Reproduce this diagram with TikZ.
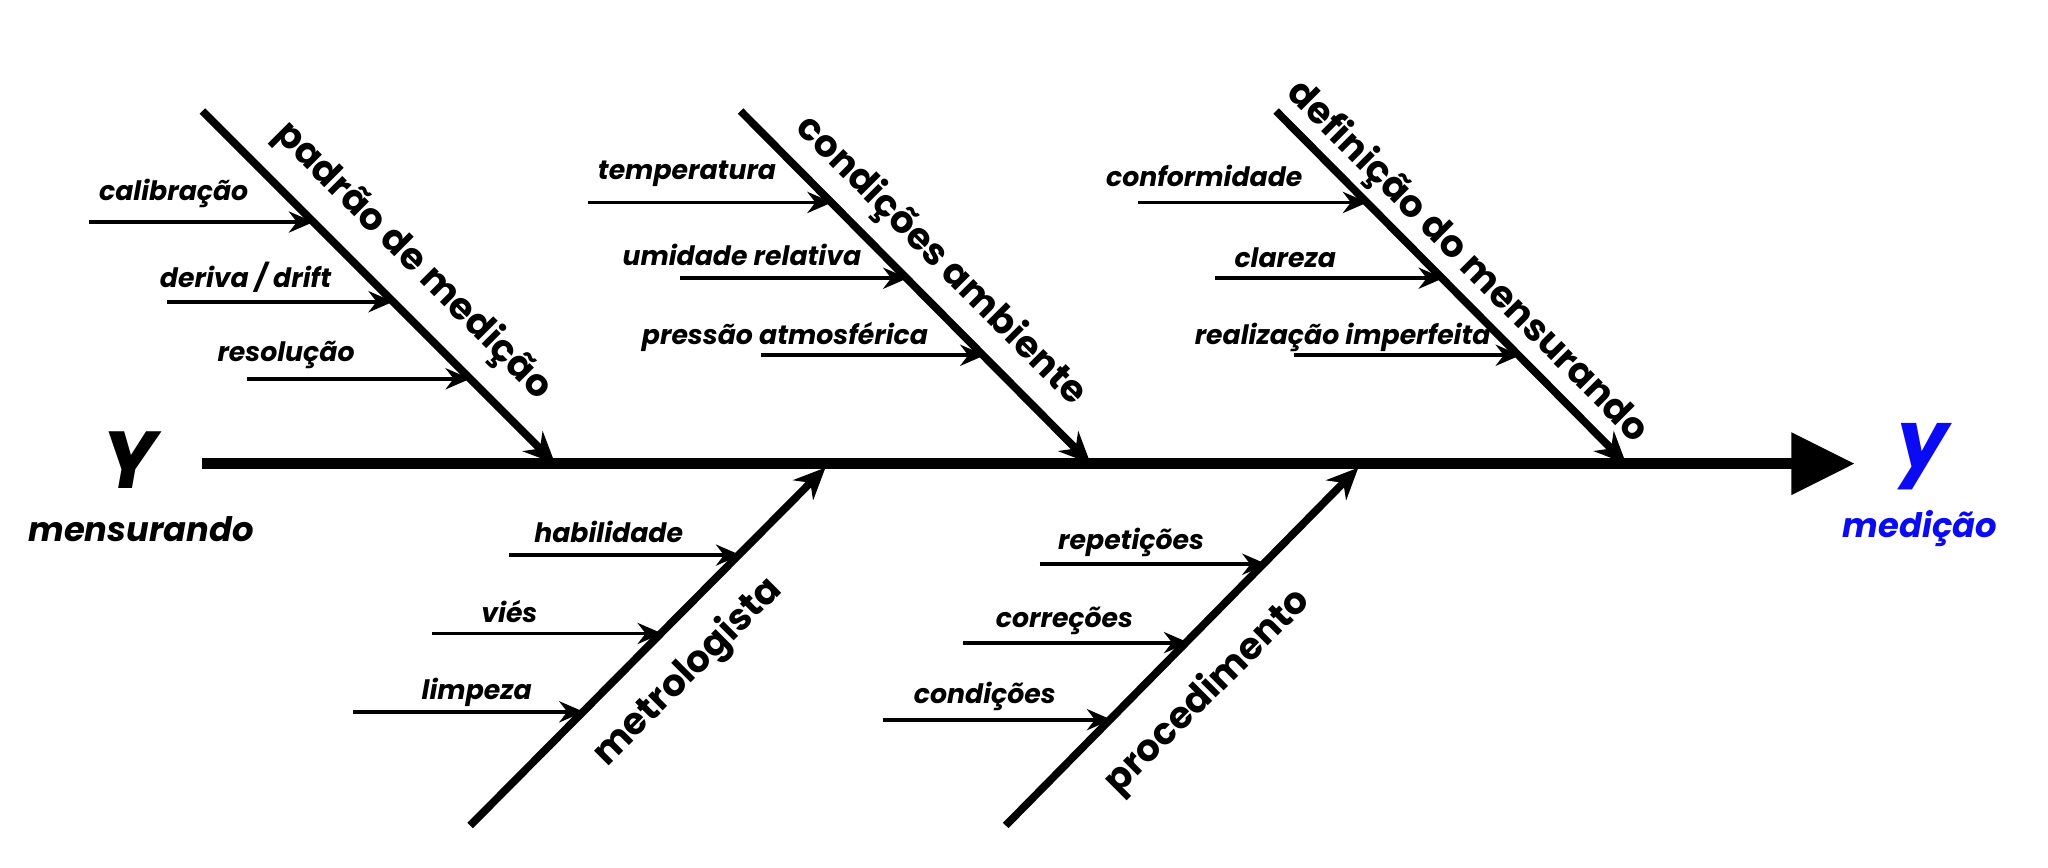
\documentclass[tikz,border=0pt]{standalone}
\usepackage{fontspec}
\setmainfont{Poppins}
\usetikzlibrary{arrows.meta}
\definecolor{measblue}{RGB}{10,10,245}
\tikzset{
  spine/.style={line width=3pt, -{Triangle[length=18pt,width=17pt]}},
  bone/.style={line width=2.2pt, -{Stealth[length=9pt,width=8pt]}},
  cause/.style={line width=1.1pt, -{Stealth[length=7pt,width=6pt]}},
  causelbl/.style={font=\fontsize{7.6}{8}\selectfont\bfseries\itshape},
  bonelbl/.style={font=\fontsize{10.6}{12}\selectfont\bfseries},
}
\begin{document}
\begin{tikzpicture}[x=0.013061cm, y=-0.013061cm]
    \useasboundingbox (0,0) rectangle (1568,664);
    % spine
    \coordinate (s0) at (155,355);
    \coordinate (s1) at (1420,355);
    \draw[spine] (s0) -- (s1);
    \node[font=\fontsize{23}{24}\selectfont\bfseries\itshape] (Y) at (99,352) {Y};
    \node[font=\fontsize{9.6}{11}\selectfont\bfseries\itshape] (Ylbl) at (108,405) {mensurando};
    \node[font=\fontsize{23}{24}\selectfont\bfseries\itshape, text=measblue] (y) at (1472,350) {y};
    \node[font=\fontsize{9.6}{11}\selectfont\bfseries\itshape, text=measblue] (ylbl) at (1470,405) {medição};
    % bones
    \coordinate (a0) at (155,85);   \coordinate (a1) at (425,355);
    \coordinate (b0) at (567,85);   \coordinate (b1) at (835,355);
    \coordinate (c0) at (977,85);   \coordinate (c1) at (1245,355);
    \coordinate (d0) at (360,632);  \coordinate (d1) at (632,358);
    \coordinate (e0) at (770,632);  \coordinate (e1) at (1040,358);
    \draw[bone] (a0) -- (a1);
    \draw[bone] (b0) -- (b1);
    \draw[bone] (c0) -- (c1);
    \draw[bone] (d0) -- (d1);
    \draw[bone] (e0) -- (e1);
    \node[bonelbl, rotate=-45] (la) at (316,200) {padrão de medição};
    \node[bonelbl, rotate=-45] (lb) at (720,200) {condições ambiente};
    \node[bonelbl, rotate=-45] (lc) at (1123,201) {definição do mensurando};
    \node[bonelbl, rotate=45]  (ld) at (527,515) {metrologista};
    \node[bonelbl, rotate=45]  (le) at (925,530) {procedimento};
    % causes - padrao de medicao
    \coordinate (a1s) at (68,170);   \coordinate (a1e) at (240,170);
    \coordinate (a2s) at (128,231);  \coordinate (a2e) at (301,231);
    \coordinate (a3s) at (189,290);  \coordinate (a3e) at (360,290);
    \draw[cause] (a1s) -- (a1e);
    \draw[cause] (a2s) -- (a2e);
    \draw[cause] (a3s) -- (a3e);
    \node[causelbl] (ta1) at (133,148) {calibração};
    \node[causelbl] (ta2) at (188,212) {deriva / drift};
    \node[causelbl] (ta3) at (219,272) {resolução};
    % causes - condicoes ambiente
    \coordinate (b1s) at (450,155);  \coordinate (b1e) at (637,155);
    \coordinate (b2s) at (521,213);  \coordinate (b2e) at (695,213);
    \coordinate (b3s) at (583,272);  \coordinate (b3e) at (754,272);
    \draw[cause] (b1s) -- (b1e);
    \draw[cause] (b2s) -- (b2e);
    \draw[cause] (b3s) -- (b3e);
    \node[causelbl] (tb1) at (526,133) {temperatura};
    \node[causelbl] (tb2) at (568,195) {umidade relativa};
    \node[causelbl] (tb3) at (601,258) {pressão atmosférica};
    % causes - definicao do mensurando
    \coordinate (c1s) at (871,155);  \coordinate (c1e) at (1047,155);
    \coordinate (c2s) at (930,213);  \coordinate (c2e) at (1105,213);
    \coordinate (c3s) at (991,272);  \coordinate (c3e) at (1164,272);
    \draw[cause] (c1s) -- (c1e);
    \draw[cause] (c2s) -- (c2e);
    \draw[cause] (c3s) -- (c3e);
    \node[causelbl] (tc1) at (922,135) {conformidade};
    \node[causelbl] (tc2) at (984,197) {clareza};
    \node[causelbl] (tc3) at (1028,258) {realização imperfeita};
    % causes - metrologista
    \coordinate (d1s) at (390,425);  \coordinate (d1e) at (567,425);
    \coordinate (d2s) at (331,485);  \coordinate (d2e) at (507,485);
    \coordinate (d3s) at (270,545);  \coordinate (d3e) at (447,545);
    \draw[cause] (d1s) -- (d1e);
    \draw[cause] (d2s) -- (d2e);
    \draw[cause] (d3s) -- (d3e);
    \node[causelbl] (td1) at (466,407) {habilidade};
    \node[causelbl] (td2) at (390,468) {viés};
    \node[causelbl] (td3) at (365,530) {limpeza};
    % causes - procedimento
    \coordinate (e1s) at (796,432);  \coordinate (e1e) at (970,432);
    \coordinate (e2s) at (737,492);  \coordinate (e2e) at (910,492);
    \coordinate (e3s) at (676,551);  \coordinate (e3e) at (851,551);
    \draw[cause] (e1s) -- (e1e);
    \draw[cause] (e2s) -- (e2e);
    \draw[cause] (e3s) -- (e3e);
    \node[causelbl] (te1) at (866,415) {repetições};
    \node[causelbl] (te2) at (815,475) {correções};
    \node[causelbl] (te3) at (754,533) {condições};
\end{tikzpicture}
\end{document}
